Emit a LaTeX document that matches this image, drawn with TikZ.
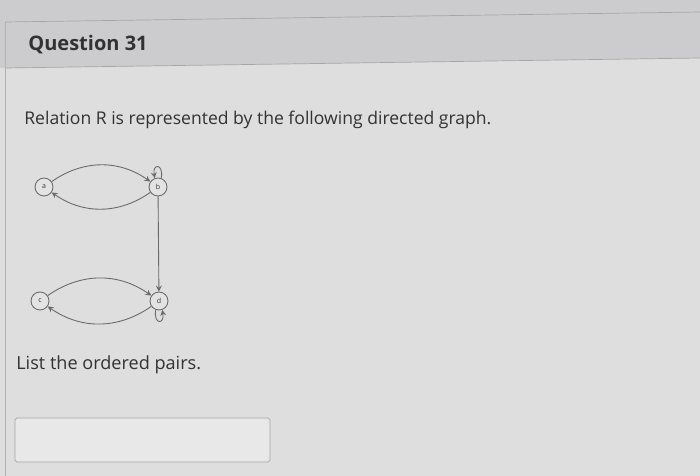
\documentclass[tikz,border=0pt]{standalone}
\usepackage{fontspec}
\setmainfont{Open Sans}
\usetikzlibrary{calc}
\usetikzlibrary{positioning}

\definecolor{pagegray}{RGB}{222,222,222}
\definecolor{headgray}{RGB}{204,204,206}
\definecolor{inkgray}{RGB}{50,50,52}
\definecolor{edgegray}{RGB}{105,105,105}

\begin{document}
\begin{tikzpicture}[x=0.02cm,y=-0.02cm,
  vertex/.style={circle,draw=edgegray,fill=pagegray!85!white,line width=0.5pt,
    minimum size=0.36cm,inner sep=0pt,font=\fontsize{4}{4}\selectfont,text=inkgray},
  arc/.style={draw=edgegray,line width=0.5pt,-stealth},
  txt/.style={anchor=west,inner sep=0pt,text=inkgray}]
\useasboundingbox (0,0) rectangle (700,476);
\fill[pagegray] (0,0) rectangle (700,476);

% header band
\fill[headgray] (0,0) -- (700,0) -- (700,58) -- (5,68) -- (0,68) -- cycle;
\draw[gray!70] (5,22) -- (700,12);
\draw[gray!70] (5,68) -- (700,58);
\draw[gray!60] (5,22) -- (5,476);
\node[txt,font=\fontsize{11.4}{13}\selectfont\bfseries] (title) at (28,45) {Question 31};

\node[txt,font=\fontsize{10}{12}\selectfont] (prompt) at (24,120)
  {Relation R is represented by the following directed graph.};

% the graph
\node[vertex] (a) at (44,187) {a};
\node[vertex] (b) at (158,187) {b};
\node[vertex] (c) at (40,301) {c};
\node[vertex] (d) at (159,301) {d};

\draw[arc] (a) to[bend left=35] (b);
\draw[arc] (b) to[bend left=35] (a);
\draw[arc] (c) to[bend left=35] (d);
\draw[arc] (d) to[bend left=35] (c);
\draw[arc] (b) -- (d);
\draw[arc] (b.70) to[out=80,in=100,looseness=6,min distance=0.16cm] (b.110);
\draw[arc] (d.-110) to[out=-100,in=-80,looseness=6,min distance=0.16cm] (d.-70);

\node[txt,font=\fontsize{10.3}{12}\selectfont] (ask) at (16,365) {List the ordered pairs.};

% answer field
\node[draw=gray!70,fill=pagegray!70!white,rounded corners=1pt,minimum width=5.1cm,
  minimum height=0.88cm,inner sep=0pt] (answer) at (142.5,440) {};
\end{tikzpicture}
\end{document}
